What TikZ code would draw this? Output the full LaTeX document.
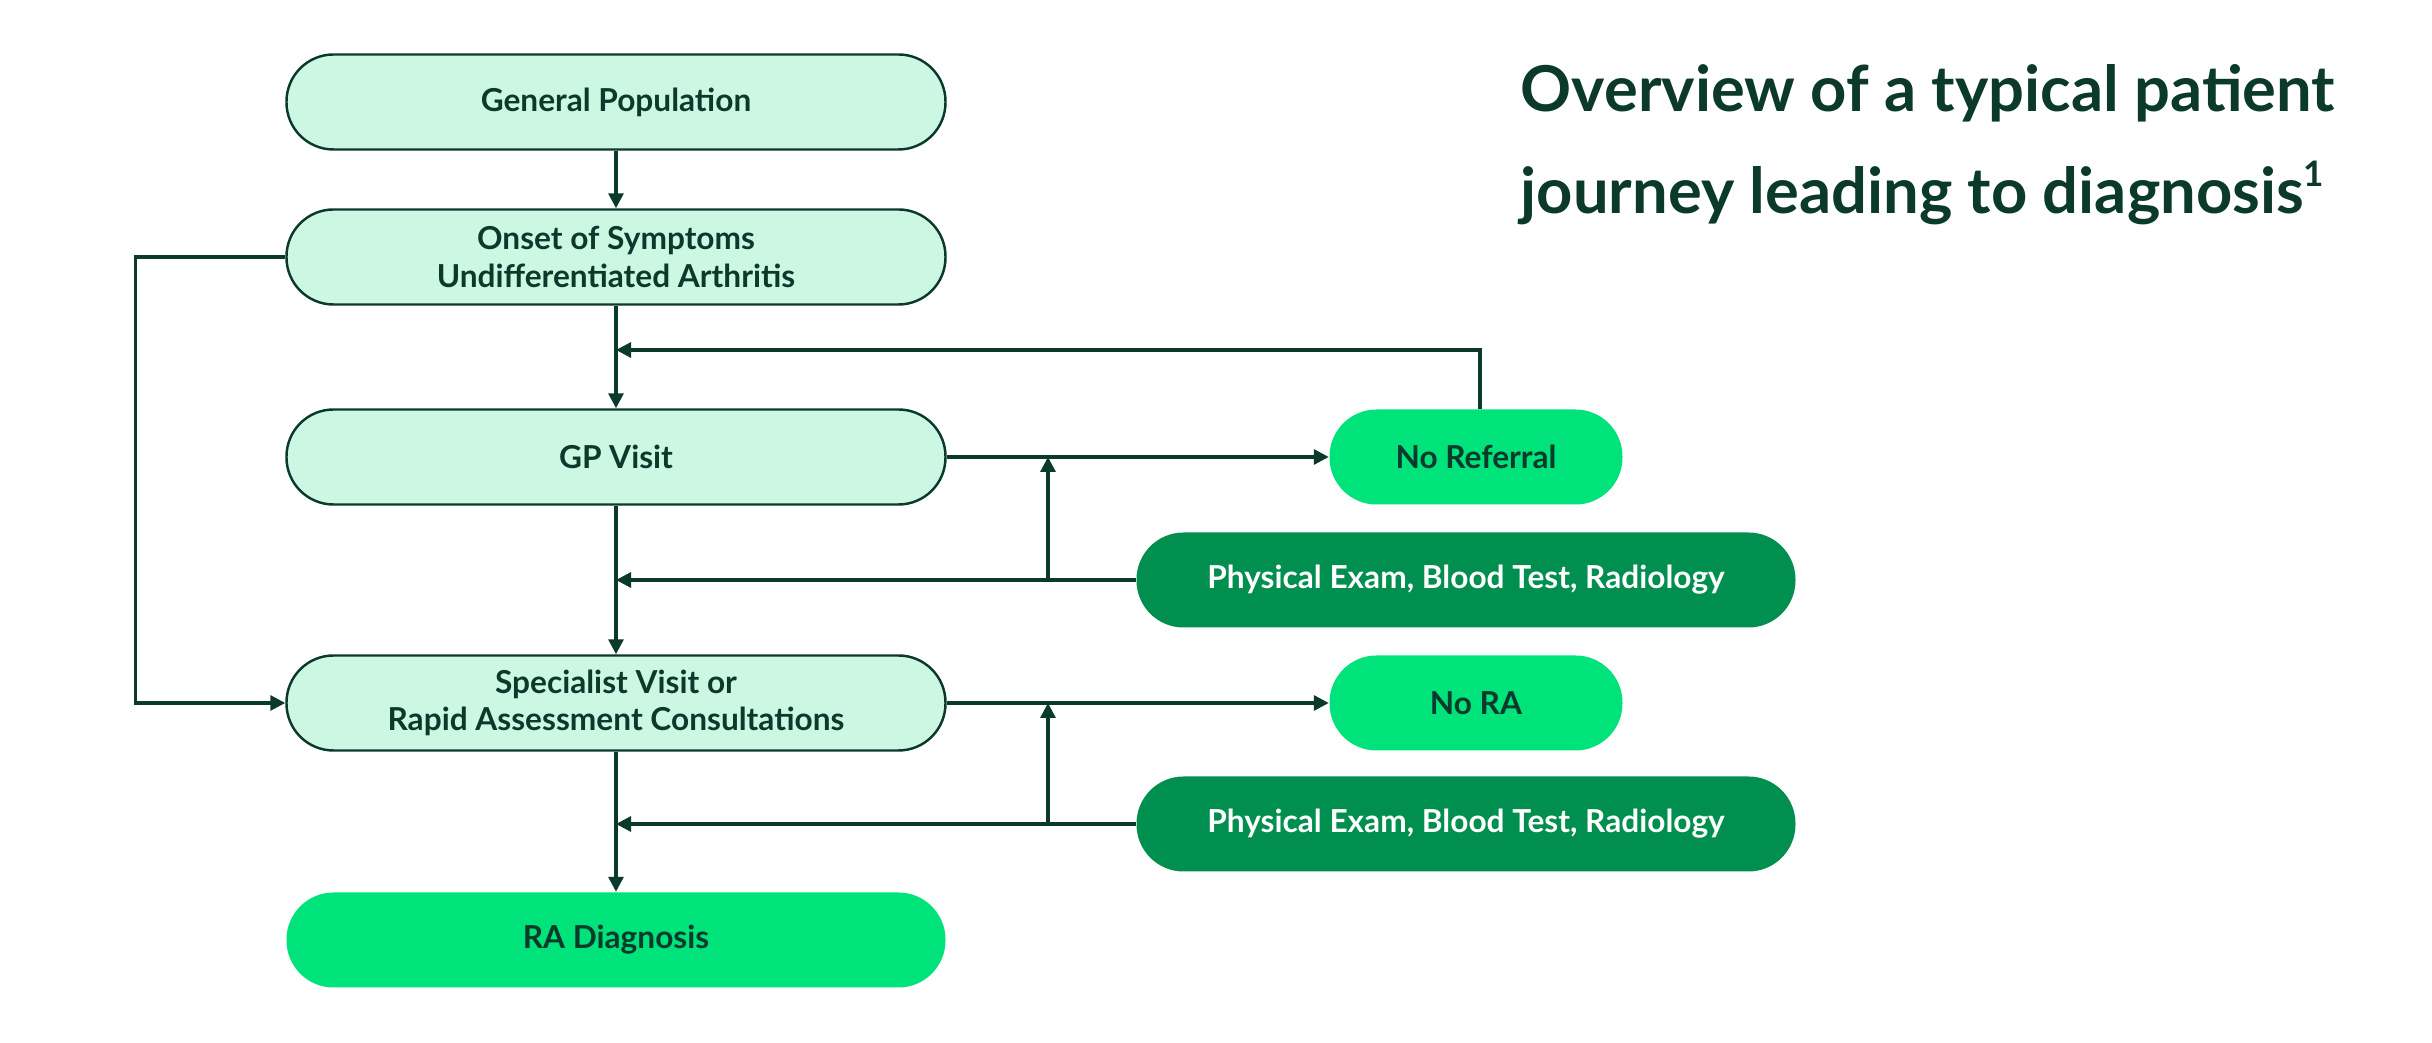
\documentclass[tikz,border=0pt]{standalone}
\usepackage{fontspec}
\setmainfont{Lato}
\usepackage{xcolor}
\usetikzlibrary{arrows.meta,positioning}
\definecolor{ink}{HTML}{0B3A2D}
\definecolor{mint}{HTML}{CCF7E3}
\definecolor{bright}{HTML}{00E27A}
\definecolor{forest}{HTML}{008F4E}
\tikzset{
  stage/.style={draw=ink, line width=0.7pt, fill=mint, text=ink},
  outcome/.style={fill=bright, text=ink},
  tests/.style={fill=forest, text=white},
  flow/.style={draw=ink, line width=0.9pt, -{Triangle[length=0.15cm,width=0.15cm]}}
}
\begin{document}
\begin{tikzpicture}[every node/.style={rounded corners=0.47cm, align=center, minimum width=6.59cm, minimum height=0.95cm, inner sep=0pt, font=\fontsize{9}{10.6}\selectfont\bfseries}]
    \useasboundingbox (0,0) rectangle (24.32,-10.43);
    \node[stage] (general) at (6.16,-1.02) {General Population};
    \node[stage] (onset) at (6.16,-2.57) {Onset of Symptoms\\Undifferentiated Arthritis};
    \node[stage] (gp) at (6.16,-4.57) {GP Visit};
    \node[stage] (specialist) at (6.16,-7.03) {Specialist Visit or\\Rapid Assessment Consultations};
    \node[outcome] (diagnosis) at (6.16,-9.40) {RA Diagnosis};
    \node[outcome, minimum width=2.93cm] (noref) at (14.76,-4.57) {No Referral};
    \node[tests] (tests1) at (14.66,-5.80) {Physical Exam, Blood Test, Radiology};
    \node[outcome, minimum width=2.93cm] (nora) at (14.76,-7.03) {No RA};
    \node[tests] (tests2) at (14.66,-8.24) {Physical Exam, Blood Test, Radiology};
    \node[draw=none, fill=none, minimum width=0pt, minimum height=0pt, rounded corners=0pt, anchor=north west, align=left, text=ink, font=\fontsize{18}{29}\selectfont\bfseries] (title) at (15.2,-0.64) {Overview of a typical patient\\journey leading to diagnosis\raisebox{0.85ex}{\fontsize{10}{10}\selectfont 1}};
    \coordinate (back) at (6.16,-3.50);
    \coordinate (join1) at (6.16,-5.80);
    \coordinate (fork1) at (10.48,-5.80);
    \coordinate (join2) at (6.16,-8.24);
    \coordinate (fork2) at (10.48,-8.24);
    \draw[flow] (general) -- (onset);
    \draw[flow] (onset) -- (gp);
    \draw[flow] (gp) -- (specialist);
    \draw[flow] (specialist) -- (diagnosis);
    \draw[flow] (gp) -- (noref);
    \draw[flow] (specialist) -- (nora);
    \draw[flow] (noref.north -| 14.80,0) |- (back);
    \draw[flow] (tests1) -- (join1);
    \draw[flow] (fork1) -- (fork1 |- gp);
    \draw[flow] (tests2) -- (join2);
    \draw[flow] (fork2) -- (fork2 |- specialist);
    \draw[flow] (onset.west) -- ++(-1.5,0) |- (specialist.west);
\end{tikzpicture}
\end{document}
